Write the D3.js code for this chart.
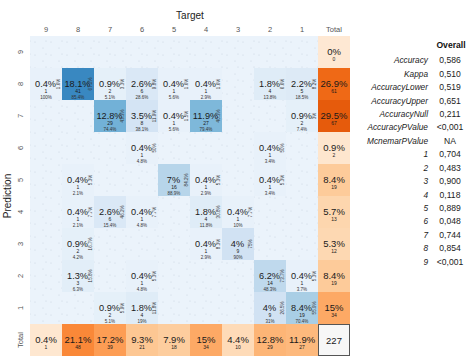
<!DOCTYPE html>
<html><head><meta charset="utf-8">
<script src="https://cdn.jsdelivr.net/npm/d3@7"></script>
<style>
html,body{margin:0;padding:0;background:#fff;}
svg{display:block;font-family:"Liberation Sans",Arial,sans-serif;}
</style></head>
<body><svg id="c" width="474" height="363"></svg>
<script>
const targets = ["9","8","7","6","5","4","3","2","1"];
const predictions = ["9","8","7","6","5","4","3","2","1"];
// rows = prediction (9..1), columns = target (9..1)
const counts = [
  [0, 0, 0, 0, 0, 0, 0, 0, 0],
  [1,41, 2, 6, 1, 1, 0, 4, 5],
  [0, 0,29, 8, 1,27, 0, 0, 2],
  [0, 0, 0, 1, 0, 0, 0, 1, 0],
  [0, 1, 0, 0,16, 1, 0, 1, 0],
  [0, 1, 6, 1, 0, 4, 1, 0, 0],
  [0, 2, 0, 0, 0, 1, 9, 0, 0],
  [0, 3, 0, 1, 0, 0, 0,14, 1],
  [0, 0, 2, 4, 0, 0, 0, 9,19]
];
const statNames = ["Accuracy","Kappa","AccuracyLower","AccuracyUpper","AccuracyNull","AccuracyPValue","McnemarPValue","1","2","3","4","5","6","7","8","9"];
const statValues = ["0,586","0,510","0,519","0,651","0,211","<0,001","NA","0,704","0,483","0,900","0,118","0,889","0,048","0,744","0,854","<0,001"];

const svg = d3.select("#c");
const xCats = targets.concat(["Total"]);
const yCats = predictions.concat(["Total"]);
const x = d3.scaleBand().domain(xCats).range([30, 350]);
const y = d3.scaleBand().domain(yCats).range([36, 356]);
const bw = x.bandwidth(), bh = y.bandwidth();

const N = d3.sum(counts.flat());
const rowTot = counts.map(r => d3.sum(r));
const colTot = targets.map((t, j) => d3.sum(counts, r => r[j]));
const maxCell = d3.max(counts.flat());
const maxTot = d3.max(rowTot.concat(colTot));

const blue = v => d3.interpolateBlues(0.06 + 0.6 * v / maxCell);
const orange = v => d3.interpolateOranges(0.1 + 0.58 * v / maxTot);
const fmt = p => { const r = Math.round(p * 10) / 10; return (Math.abs(r % 1) < 1e-9 ? r.toFixed(0) : r.toFixed(1)) + "%"; };

// dot pattern for zero tiles
const defs = svg.append("defs");
const pat = defs.append("pattern").attr("id","dots").attr("patternUnits","userSpaceOnUse").attr("width",16).attr("height",13);
pat.append("rect").attr("width",16).attr("height",13).attr("fill", blue(0));
[[3,3],[11,9],[14,2]].forEach(([cx,cy]) => pat.append("circle").attr("cx",cx).attr("cy",cy).attr("r",0.5).attr("fill","#b4c0d0").attr("opacity",0.7));

const cells = [];
predictions.forEach((p, i) => targets.forEach((t, j) => cells.push({p, t, v: counts[i][j], i, j})));

const g = svg.append("g");
g.selectAll("rect.cell").data(cells).join("rect")
  .attr("x", d => x(d.t)).attr("y", d => y(d.p))
  .attr("width", bw).attr("height", bh)
  .attr("fill", d => d.v === 0 ? "url(#dots)" : blue(d.v));

const nz = cells.filter(d => d.v > 0);
const cx = d => x(d.t) + bw / 2, cy = d => y(d.p) + bh / 2;
g.selectAll("text.pct").data(nz).join("text")
  .attr("x", d => cx(d) - 0.5).attr("y", d => cy(d) + 3).attr("text-anchor","middle")
  .attr("font-size", 9.2).attr("fill","#1a1a1a").text(d => fmt(d.v / N * 100));
g.selectAll("text.cnt").data(nz).join("text")
  .attr("x", cx).attr("y", d => cy(d) + 9).attr("text-anchor","middle")
  .attr("font-size", 5).attr("fill","#1a1a1a").text(d => d.v);
g.selectAll("text.colp").data(nz).join("text")
  .attr("x", cx).attr("y", d => y(d.p) + bh - 1.3).attr("text-anchor","middle")
  .attr("font-size", 4.5).attr("fill","#333").text(d => fmt(d.v / colTot[d.j] * 100));
g.selectAll("text.rowp").data(nz).join("text")
  .attr("transform", d => `translate(${x(d.t) + bw - 1.8},${cy(d)}) rotate(-90)`)
  .attr("text-anchor","middle").attr("font-size", 4.5).attr("fill","#333")
  .text(d => fmt(d.v / rowTot[d.i] * 100));

// totals
const tots = predictions.map((p, i) => ({p, t: "Total", v: rowTot[i]}))
  .concat(targets.map((t, j) => ({p: "Total", t, v: colTot[j]})));
g.selectAll("rect.tot").data(tots).join("rect")
  .attr("x", d => x(d.t)).attr("y", d => y(d.p)).attr("width", bw).attr("height", bh)
  .attr("fill", d => orange(d.v));
g.selectAll("text.tp").data(tots).join("text")
  .attr("x", cx).attr("y", d => cy(d) + 2.5).attr("text-anchor","middle")
  .attr("font-size", 9.5).attr("fill","#1a1a1a").text(d => fmt(d.v / N * 100));
g.selectAll("text.tc").data(tots).join("text")
  .attr("x", cx).attr("y", d => cy(d) + 8.5).attr("text-anchor","middle")
  .attr("font-size", 5).attr("fill","#1a1a1a").text(d => d.v);
g.append("rect").attr("x", x("Total") + 0.5).attr("y", y("Total") + 0.5)
  .attr("width", bw - 1).attr("height", bh - 1).attr("fill","#f7f7f7").attr("stroke","#555").attr("stroke-width",1);
g.append("text").attr("x", x("Total") + bw / 2).attr("y", y("Total") + bh / 2 + 3.5)
  .attr("text-anchor","middle").attr("font-size", 9.5).attr("fill","#1a1a1a").text(N);

// axes
const xa = svg.append("g").attr("transform","translate(0,32)").call(d3.axisTop(x).tickSize(0).tickPadding(0));
xa.select(".domain").remove();
xa.selectAll("text").attr("font-size", 7.5).attr("fill","#555").attr("font-family","Liberation Sans, Arial, sans-serif");
const ya = svg.append("g").attr("transform","translate(23,0)").call(d3.axisLeft(y).tickSize(0).tickPadding(0));
ya.select(".domain").remove();
ya.selectAll("text").attr("font-size", 7.5).attr("fill","#555").attr("font-family","Liberation Sans, Arial, sans-serif")
  .attr("text-anchor","middle").attr("dy", 0).attr("x", 0).attr("y", 0).attr("transform","rotate(-90)");

svg.append("text").attr("x", 190).attr("y", 19).attr("text-anchor","middle")
  .attr("font-size", 10).attr("fill","#222").text("Target");
svg.append("text").attr("transform","translate(11,196) rotate(-90)").attr("text-anchor","middle")
  .attr("font-size", 10).attr("fill","#222").text("Prediction");

// stats table
const ty = d3.scaleBand().domain(statNames).range([53.5, 268.5]);
const tb = svg.append("g");
tb.append("text").attr("x", 451).attr("y", 48).attr("text-anchor","middle")
  .attr("font-size", 8.6).attr("font-weight","bold").attr("fill","#111").text("Overall");
tb.selectAll("text.sn").data(statNames).join("text")
  .attr("x", 428).attr("y", d => ty(d) + ty.bandwidth() / 2 + 3)
  .attr("text-anchor","end").attr("font-size", 8.3).attr("font-style","italic").attr("fill","#222").text(d => d);
tb.selectAll("text.sv").data(statValues).join("text")
  .attr("x", 450).attr("y", (d, i) => ty(statNames[i]) + ty.bandwidth() / 2 + 3)
  .attr("text-anchor","middle").attr("font-size", 8.6).attr("fill","#222").text(d => d);
</script></body></html>
